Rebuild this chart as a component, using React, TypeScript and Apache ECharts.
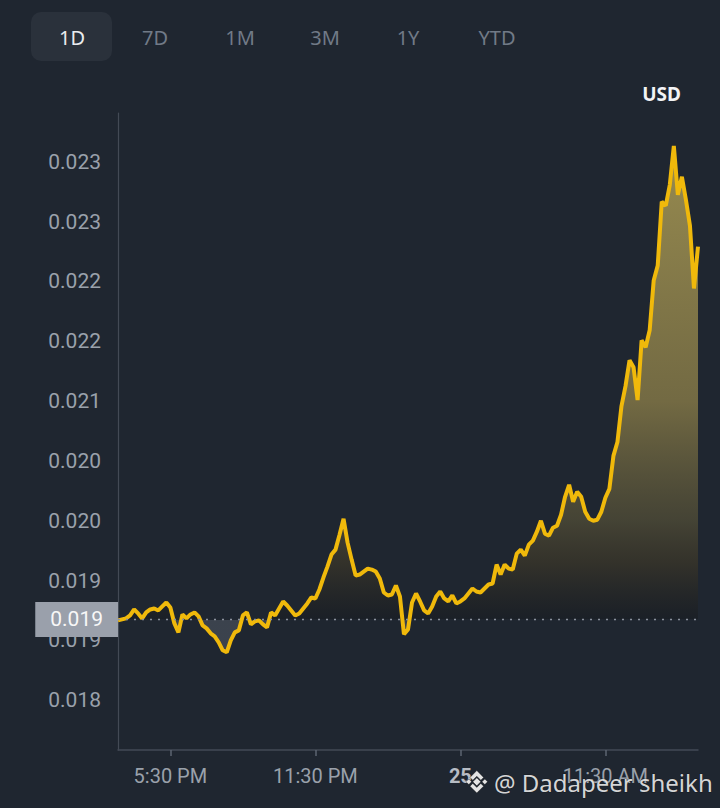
import React, { useEffect, useRef } from "react";
import * as echarts from "echarts";

// ---- data ----
const startMinutes = 15 * 60 + 20; // 3:20 PM, 10-minute steps over 24h
const categories: string[] = [];
for (let i = 0; i <= 144; i++) {
  const m = startMinutes + i * 10;
  const h = Math.floor(m / 60) % 24;
  const mm = m % 60;
  categories.push(`${h}:${mm < 10 ? "0" + mm : mm}`);
}

const prices: number[] = [
  0.01880, 0.01881, 0.01882, 0.01885, 0.01891, 0.01887, 0.01882, 0.01888, 0.01891, 0.01892,
  0.01890, 0.01894, 0.01898, 0.01893, 0.01877, 0.01868, 0.01886, 0.01882, 0.01886, 0.01888,
  0.01884, 0.01875, 0.01872, 0.01867, 0.01864, 0.01858, 0.01850, 0.01848, 0.01860, 0.01868,
  0.01870, 0.01885, 0.01888, 0.01876, 0.01879, 0.01880, 0.01876, 0.01873, 0.01888, 0.01885,
  0.01892, 0.01899, 0.01895, 0.01890, 0.01885, 0.01887, 0.01892, 0.01897, 0.01903, 0.01902,
  0.01911, 0.01923, 0.01934, 0.01946, 0.01951, 0.01966, 0.01982, 0.01958, 0.01941, 0.01925,
  0.01926, 0.01929, 0.01932, 0.01931, 0.01929, 0.01922, 0.01908, 0.01905, 0.01906, 0.01915,
  0.01904, 0.01866, 0.01871, 0.01898, 0.01907, 0.01899, 0.01890, 0.01887, 0.01894, 0.01904,
  0.01909, 0.01902, 0.01899, 0.01905, 0.01897, 0.01899, 0.01902, 0.01907, 0.01912, 0.01909,
  0.01908, 0.01912, 0.01916, 0.01917, 0.01936, 0.01926, 0.01936, 0.01932, 0.01931, 0.01947,
  0.01951, 0.01945, 0.01956, 0.01960, 0.01969, 0.01980, 0.01967, 0.01965, 0.01973, 0.01975,
  0.01986, 0.02004, 0.02016, 0.01999, 0.02009, 0.02004, 0.01989, 0.01982, 0.01980, 0.01981,
  0.01989, 0.02003, 0.02012, 0.02045, 0.02059, 0.02095, 0.02115, 0.02141, 0.02134, 0.02101,
  0.02161, 0.02154, 0.02171, 0.02221, 0.02236, 0.02300, 0.02296, 0.02317, 0.02356, 0.02307,
  0.02325, 0.02302, 0.02276, 0.02213, 0.02255,
];

const baseValue = 0.01881;
const baseLabel = "0.019";

const yTickValues: number[] = [0.018, 0.0186, 0.0192, 0.0198, 0.0204, 0.021, 0.0216, 0.0222, 0.0228, 0.0234];
const yTickLabels: string[] = ["0.018", "0.019", "0.019", "0.020", "0.020", "0.021", "0.022", "0.022", "0.023", "0.023"];

const xTickIndex: number[] = [13, 49, 85, 121];
const xTickLabels: string[] = ["5:30 PM", "11:30 PM", "25", "11:30 AM"];
const boldXLabel = "25";

const tabs: string[] = ["1D", "7D", "1M", "3M", "1Y", "YTD"];
const activeTab = "1D";
const currency = "USD";
const watermark = "@ Dadapeer sheikh";

export default function App() {
  const ref = useRef<HTMLDivElement>(null);

  useEffect(() => {
    if (!ref.current) return;
    const chart = echarts.init(ref.current, undefined, { renderer: "svg" });

    const dataMax = Math.max(...prices);
    const dataMin = Math.min(...prices, baseValue);
    const off = (dataMax - baseValue) / (dataMax - dataMin);

    const tabX = [72, 155, 240, 325, 408, 497];

    const logoPolys: number[][][] = [
      [[16, 11], [21, 16], [16, 21], [11, 16]],
      [[2.5, 16], [6, 12.5], [9.5, 16], [6, 19.5]],
      [[22.5, 16], [26, 12.5], [29.5, 16], [26, 19.5]],
      [[16, 2], [24.5, 10.5], [21, 14], [16, 9], [11, 14], [7.5, 10.5]],
      [[16, 30], [24.5, 21.5], [21, 18], [16, 23], [11, 18], [7.5, 21.5]],
    ];

    const graphics: any[] = [
      {
        type: "rect",
        shape: { x: 31, y: 12, width: 81, height: 49, r: 10 },
        style: { fill: "#2a313b" },
        z: 10,
      },
      ...tabs.map((t, i) => ({
        type: "text",
        x: tabX[i],
        y: 37,
        z: 11,
        style: {
          text: t,
          fill: t === activeTab ? "#eaecef" : "#717a87",
          font: '20px "Noto Sans", sans-serif',
          textAlign: "center",
          textVerticalAlign: "middle",
        },
      })),
      {
        type: "text",
        x: 681,
        y: 94,
        z: 11,
        style: {
          text: currency,
          fill: "#f2f3f5",
          font: 'bold 19px "Noto Sans", sans-serif',
          textAlign: "right",
          textVerticalAlign: "middle",
        },
      },
      {
        type: "group",
        x: 464,
        y: 769,
        scaleX: 0.8,
        scaleY: 0.8,
        z: 100,
        children: logoPolys.map((pts) => ({
          type: "polygon",
          z: 100,
          shape: { points: pts },
          style: { fill: "#e4e4e4", stroke: "rgba(0,0,0,0.45)", lineWidth: 1 },
        })),
      },
      {
        type: "text",
        x: 494,
        y: 782,
        z: 100,
        style: {
          text: watermark,
          fill: "rgba(232,232,232,0.92)",
          font: '24px "Noto Sans", sans-serif',
          textAlign: "left",
          textVerticalAlign: "middle",
          stroke: "rgba(0,0,0,0.35)",
          lineWidth: 1,
        },
      },
    ];

    chart.setOption({
      animation: false,
      backgroundColor: "#1f2630",
      grid: { left: 118, right: 22, top: 113, bottom: 58 },
      xAxis: {
        type: "category",
        data: categories,
        boundaryGap: false,
        axisLine: { show: true, lineStyle: { color: "#434a55", width: 1.5 } },
        axisTick: {
          show: true,
          interval: (idx: number) => xTickIndex.indexOf(idx) >= 0,
          length: 6,
          lineStyle: { color: "#5d6470", width: 1.5 },
        },
        axisLabel: {
          interval: (idx: number) => xTickIndex.indexOf(idx) >= 0,
          formatter: (_v: string, idx: number) => {
            const k = xTickIndex.indexOf(idx);
            if (k < 0) return "";
            const t = xTickLabels[k];
            return t === boldXLabel ? `{b|${t}}` : t;
          },
          color: "#9aa1ab",
          fontSize: 20,
          fontFamily: "Roboto, sans-serif",
          margin: 16,
          rich: {
            b: { fontWeight: "bold", color: "#b7bcc4", fontSize: 20, fontFamily: "Roboto, sans-serif" },
          },
        },
        splitLine: { show: false },
      },
      yAxis: {
        type: "value",
        min: 0.0175,
        max: 0.02389,
        interval: 0.0001,
        axisLine: { show: true, lineStyle: { color: "#434a55", width: 1.2 } },
        axisTick: { show: false },
        splitLine: { show: false },
        axisLabel: {
          showMaxLabel: false,
          showMinLabel: false,
          color: "#9aa1ab",
          fontSize: 21,
          fontFamily: "Roboto, sans-serif",
          margin: 17,
          formatter: (v: number) => {
            for (let i = 0; i < yTickValues.length; i++) {
              if (Math.abs(v - yTickValues[i]) < 1e-7) return yTickLabels[i];
            }
            return "";
          },
        },
      },
      series: [
        {
          type: "line",
          data: prices,
          showSymbol: false,
          symbol: "none",
          lineStyle: { color: "#f0b90b", width: 4 },
          itemStyle: { color: "#f0b90b" },
          areaStyle: {
            origin: baseValue,
            color: new echarts.graphic.LinearGradient(0, 0, 0, 1, [
              { offset: 0, color: "rgba(230,205,100,0.86)" },
              { offset: off * 0.54, color: "rgba(190,167,84,0.75)" },
              { offset: off * 0.79, color: "rgba(121,108,60,0.6)" },
              { offset: off * 0.88, color: "rgba(89,72,32,0.5)" },
              { offset: off, color: "rgba(15,15,15,0.4)" },
              { offset: Math.min(1, off + 0.001), color: "rgba(120,128,140,0.45)" },
              { offset: 1, color: "rgba(120,128,140,0.45)" },
            ]),
          },
          markLine: {
            silent: true,
            symbol: "none",
            precision: 6,
            lineStyle: { type: [2, 6], color: "#8a919c", width: 1.3 },
            label: {
              show: true,
              position: "start",
              distance: 0,
              formatter: () => baseLabel,
              backgroundColor: "#9aa0ab",
              color: "#f7f7f7",
              fontSize: 21,
              fontFamily: "Roboto, sans-serif",
              lineHeight: 21,
              padding: [7, 15, 7, 15],
            },
            data: [{ yAxis: baseValue }],
          },
        },
      ],
      graphic: graphics,
    });

    return () => chart.dispose();
  }, []);

  return (
    <div
      ref={ref}
      style={{ position: "fixed", left: 0, top: 0, width: 720, height: 808, background: "#1f2630" }}
    />
  );
}
